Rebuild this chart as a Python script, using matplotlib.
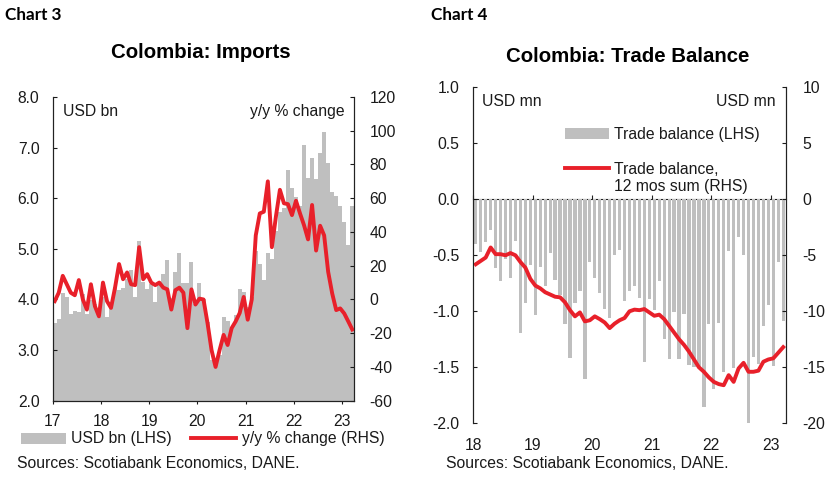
import matplotlib
matplotlib.use('Agg')
import matplotlib.pyplot as plt
from matplotlib.patches import Patch
from matplotlib.lines import Line2D

plt.rcParams['font.family'] = ['Liberation Sans', 'DejaVu Sans']
plt.rcParams['axes.unicode_minus'] = False

# ---- Chart 3: imports, Jan 2017 - Mar 2023 ----
imports_bn = [3.53, 3.62, 4.12, 4.05, 3.72, 3.77, 3.75, 4.10, 3.72, 3.98, 3.92, 3.66,
              4.05, 3.66, 3.95, 4.25, 4.18, 4.22, 4.40, 4.58, 4.05, 5.16, 4.35, 4.20,
              4.30, 3.95, 4.35, 4.51, 4.78, 4.02, 4.55, 4.91, 4.32, 4.33, 4.75, 3.92,
              4.32, 4.00, 3.55, 2.80, 2.75, 2.90, 3.65, 3.58, 3.45, 3.70, 4.20, 4.15,
              3.85, 4.05, 4.95, 4.70, 4.39, 4.92, 4.80, 5.35, 5.73, 5.80, 6.56, 6.20,
              6.03, 5.85, 7.05, 6.40, 6.80, 6.38, 6.90, 7.30, 6.70, 6.12, 6.05, 5.85,
              5.54, 5.07, 5.85]
imports_yoy = [-1, 4, 14, 9, 4, 2.5, 11.5, 0, -6, 9, -4, -10,
               10, -1, -5, 7, 21, 12, 16, 9, 8.5, 31, 12, 15,
               10, 8.5, 10, 7, 6, -6, 5.5, 7, 4, -17, 6, -3,
               0.5, 0, -14, -30, -40, -30, -21, -27, -17, -13, -8, 1.5,
               -12, 0, 38, 51, 52, 70, 31, 49, 65, 57, 56.5, 50,
               58.5, 51, 44, 35.6, 56, 29, 43.7, 38, 16.4, 3.6, -6.3, -5.3,
               -8.3, -13, -17.8]
years3 = ['17', '18', '19', '20', '21', '22', '23']

# ---- Chart 4: trade balance, Jan 2018 - Mar 2023 ----
trade_bal = [-0.40, -0.47, -0.38, -0.27, -0.61, -0.73, -0.53, -0.70, -0.37, -1.19, -0.93, -0.59,
             -1.03, -0.60, -0.77, -0.48, -0.72, -0.85, -1.11, -1.42, -0.93, -0.82, -1.60, -0.56,
             -0.70, -0.84, -0.98, -1.06, -0.50, -0.45, -0.91, -0.82, -0.77, -0.88, -1.45, -0.89,
             -0.99, -0.73, -1.25, -1.43, -1.01, -1.43, -1.02, -1.48, -1.50, -1.51, -1.85, -1.11,
             -1.69, -1.10, -1.54, -0.46, -1.51, -0.34, -0.50, -2.01, -1.41, -1.47, -1.13, -0.94,
             -1.49, -0.56, -1.09]
trade_12m = [-5.8, -5.5, -5.2, -4.3, -4.9, -4.9, -5.0, -4.8, -5.0, -5.6, -6.1, -7.1,
             -7.7, -7.95, -8.3, -8.5, -8.7, -8.75, -9.2, -9.9, -10.45, -10.1, -10.9, -10.8,
             -10.45, -10.7, -11.0, -11.5, -11.1, -10.8, -10.6, -10.0, -9.85, -9.9, -9.8, -10.1,
             -10.4, -10.3, -10.7, -11.3, -11.9, -12.5, -13.0, -13.6, -14.3, -15.0, -15.4, -15.9,
             -16.3, -16.5, -16.6, -15.7, -16.3, -15.1, -14.6, -15.4, -15.4, -15.3, -14.5, -14.3,
             -14.2, -13.7, -13.2]
years4 = ['18', '19', '20', '21', '22', '23']

GREY = '#BFBFBF'
RED = '#E8202A'
INK = '#1a1a1a'
FS = 11.3

W, H = 828, 483
def px(x, y):
    return x / W, 1 - y / H

fig = plt.figure(figsize=(8.28, 4.83), dpi=100)

# ================= Chart 3 =================
ax1 = fig.add_axes([52.7 / W, 1 - 400.7 / H, 301.6 / W, 303.7 / H])
n3 = len(imports_bn)
x3 = [i + 0.5 for i in range(n3)]
ax1.bar(x3, imports_bn, width=1.0, color=GREY, linewidth=0)
ax1.set_xlim(0, n3)
ax1.set_ylim(2, 8)
ax1.set_yticks([2, 3, 4, 5, 6, 7, 8])
ax1.set_yticklabels(['%.1f' % v for v in [2, 3, 4, 5, 6, 7, 8]])
ax1.set_xticks(range(0, 73, 12))
ax1.set_xticklabels(years3)
ax1r = ax1.twinx()
ax1r.plot(x3, imports_yoy, color=RED, lw=2.8, solid_joinstyle='round')
ax1r.set_ylim(-60, 120)
ax1r.set_yticks(range(-60, 121, 20))
ax1r.set_yticklabels([str(v) for v in range(-60, 121, 20)])

for a in (ax1, ax1r):
    a.spines['top'].set_visible(False)
    for s in a.spines.values():
        s.set_linewidth(0.8)
        s.set_color('#222222')
ax1.tick_params(axis='y', direction='in', length=3, pad=9.5, labelsize=FS, colors=INK)
ax1.tick_params(axis='x', direction='out', length=2.5, pad=7, labelsize=FS, colors=INK)
ax1r.tick_params(axis='y', direction='in', length=3, pad=11, labelsize=FS, colors=INK)

ax1.text(0.034, 0.952, 'USD bn', transform=ax1.transAxes, fontsize=FS,
         ha='left', va='center', color=INK)
ax1.text(0.969, 0.952, 'y/y % change', transform=ax1.transAxes, fontsize=FS,
         ha='right', va='center', color=INK)

h3 = [Patch(facecolor=GREY, edgecolor='none'), Line2D([], [], color=RED, lw=2.8)]
fig.legend(h3, ['USD bn (LHS)', 'y/y % change (RHS)'], loc='center left',
           bbox_to_anchor=px(21, 439), ncol=2, frameon=False, fontsize=FS,
           borderpad=0, borderaxespad=0, handlelength=2.85, handletextpad=0.35,
           columnspacing=1.25, labelcolor=INK)

fig.text(*px(5, 15), 'Chart 3', fontsize=12.3, fontweight='bold',
         family=['Lato', 'DejaVu Sans'], ha='left', va='center')
fig.text(*px(201, 53), 'Colombia: Imports', fontsize=14.7, fontweight='bold',
         ha='center', va='center')
fig.text(*px(17, 464), 'Sources: Scotiabank Economics, DANE.', fontsize=FS,
         ha='left', va='center', color=INK)

# ================= Chart 4 =================
ax2 = fig.add_axes([473.3 / W, 1 - 423.3 / H, 312.4 / W, 336 / H])
n4 = len(trade_bal)
x4 = [i + 0.5 for i in range(n4)]
ax2.bar(x4, trade_bal, width=0.66, color=GREY, linewidth=0)
ax2.set_xlim(0, n4)
ax2.set_ylim(-2, 1)
lt = [-2, -1.5, -1, -0.5, 0, 0.5, 1]
ax2.set_yticks(lt)
ax2.set_yticklabels(['%.1f' % v for v in lt])
ax2.set_xticks(range(0, 61, 12))
ax2.set_xticklabels(years4)
ax2r = ax2.twinx()
ax2r.plot(x4, trade_12m, color=RED, lw=2.8, solid_joinstyle='round')
ax2r.set_ylim(-20, 10)
ax2r.set_yticks(range(-20, 11, 5))
ax2r.set_yticklabels([str(v) for v in range(-20, 11, 5)])

for a in (ax2, ax2r):
    a.spines['top'].set_visible(False)
    a.spines['bottom'].set_visible(False)
    for s in a.spines.values():
        s.set_linewidth(0.8)
        s.set_color('#222222')
ax2.tick_params(axis='y', direction='in', length=3, pad=9.8, labelsize=FS, colors=INK)
ax2.tick_params(axis='x', length=0, pad=10.5, labelsize=FS, colors=INK)
ax2r.tick_params(axis='y', direction='in', length=3, pad=12, labelsize=FS, colors=INK)

# zero line with year ticks pointing up
zero = ax2.secondary_xaxis(2 / 3)
zero.set_xticks(range(0, 61, 12))
zero.tick_params(axis='x', direction='out', length=3, labeltop=False, labelbottom=False,
                 color='#222222', width=0.8)
zero.spines['top'].set_linewidth(0.8)
zero.spines['top'].set_color('#222222')

ax2.text(0.027, 0.957, 'USD mn', transform=ax2.transAxes, fontsize=FS,
         ha='left', va='center', color=INK)
ax2.text(0.968, 0.957, 'USD mn', transform=ax2.transAxes, fontsize=FS,
         ha='right', va='center', color=INK)

h4 = [Patch(facecolor=GREY, edgecolor='none'), Line2D([], [], color=RED, lw=2.8)]
fig.legend(h4, ['Trade balance (LHS)', 'Trade balance,'], loc='upper left',
           bbox_to_anchor=px(564.7, 127), frameon=False, fontsize=FS,
           borderpad=0, borderaxespad=0, handlelength=2.85, handletextpad=0.3,
           labelspacing=1.25, labelcolor=INK)
fig.text(*px(614, 186), '12 mos sum (RHS)', fontsize=FS, ha='left', va='center', color=INK)

fig.text(*px(431, 15), 'Chart 4', fontsize=12.3, fontweight='bold',
         family=['Lato', 'DejaVu Sans'], ha='left', va='center')
fig.text(*px(628, 57), 'Colombia: Trade Balance', fontsize=14.7, fontweight='bold',
         ha='center', va='center')
fig.text(*px(446, 464), 'Sources: Scotiabank Economics, DANE.', fontsize=FS,
         ha='left', va='center', color=INK)

fig.savefig('out.png', dpi=100)
